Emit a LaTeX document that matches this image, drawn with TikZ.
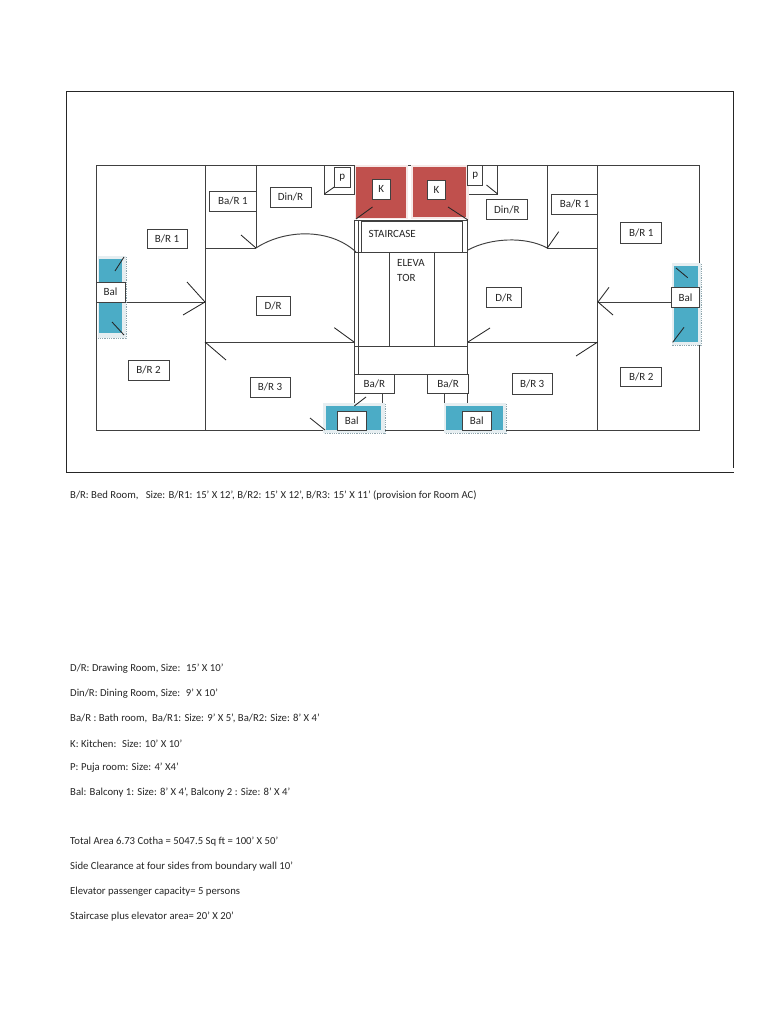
\documentclass[tikz,border=0pt]{standalone}
\usepackage{fontspec}
\setmainfont{Carlito}
\definecolor{ink}{HTML}{404040}
\definecolor{balblue}{HTML}{4BACC6}
\definecolor{kitred}{HTML}{C0504D}
\definecolor{bluehalo}{HTML}{E6EEF1}
\definecolor{redhalo}{HTML}{F6E9E8}
\definecolor{dotline}{HTML}{8FA6AE}
\tikzset{
 wall/.style={draw=ink,line width=0.95pt},
 frameline/.style={draw=black!85,line width=0.95pt},
 tick/.style={draw=black!85,line width=0.85pt},
 lbox/.style={draw=ink,fill=white,line width=0.95pt,inner sep=0pt},
 ltext/.style={font=\fontsize{11}{12}\selectfont,text=black!85,inner sep=0pt},
 note/.style={font=\fontsize{10.7}{12}\selectfont,text=black!85,anchor=west,inner sep=0pt},
 balfill/.style={fill=balblue},
 kitfill/.style={fill=kitred},
 dotedge/.style={draw=dotline,line width=0.8pt,densely dotted}
}
% box corners x1,y1,x2,y2, name, text
\newcommand{\lab}[6]{%
 \draw[lbox] (#1,#2) rectangle (#3,#4) node[midway,ltext,name=#5]{#6};}
\begin{document}
\begin{tikzpicture}[x=1pt,y=-1pt]
\useasboundingbox[fill=white] (0,0) rectangle (768,1024);
% outer frame
\draw[frameline] (66,472) -- (66,91) -- (733,91) -- (733,468);
\draw[frameline] (66,472) -- (734,472);
% plan outline
\draw[wall] (96,165) rectangle (699,430);
% left wing
\draw[wall] (205,165) -- (205,430);
\draw[wall] (256,165) -- (256,248);
\draw[wall] (205,248) -- (256,248);
\draw[wall] (205,342) -- (354,342);
\draw[wall] (125,302) -- (205,302);
\draw[wall] (256,248) .. controls (285,229) and (330,228) .. (356,252);
% right wing
\draw[wall] (597.7,165) -- (597.7,430);
\draw[wall] (547.3,165) -- (547.3,248);
\draw[wall] (547.3,248) -- (597.7,248);
\draw[wall] (468,342) -- (597.7,342);
\draw[wall] (598,302) -- (672,302);
\draw[wall] (468,250) .. controls (490,238) and (525,236) .. (547.3,248);
% puja rooms
\draw[wall] (324.3,165) rectangle (354.3,194.7);
\draw[wall] (467.7,165) rectangle (497.7,194.7);
% core
\draw[wall] (354.3,220) -- (354.3,406);
\draw[wall] (358.3,220) -- (358.3,374);
\draw[wall] (354.3,220.5) -- (467.7,220.5);
\draw[wall] (467.7,220.5) -- (467.7,405);
\draw[wall] (361,221.7) rectangle (462.7,252);
\draw[wall] (354.3,252) -- (467.7,252);
\draw[wall] (389.7,252) -- (389.7,346.3);
\draw[wall] (434,252) -- (434,346.3);
\draw[wall] (354.3,346.3) -- (467.7,346.3);
\draw[wall] (354.3,374) -- (467.7,374);
\draw[wall] (382.7,393.7) -- (382.7,405);
\draw[wall] (444.7,393.7) -- (444.7,405);
% balconies
\fill[bluehalo] (97.5,256) rectangle (126,338);
\fill[balfill] (99.3,259) rectangle (122,333);
\draw[dotedge] (126,257) -- (126,338) -- (98,338);
\fill[bluehalo] (671.5,263) rectangle (701,345);
\fill[balfill] (674.3,265.7) rectangle (698,341.7);
\draw[dotedge] (701,264) -- (701,345) -- (672,345);
\fill[bluehalo] (323,403) rectangle (385,433);
\fill[balfill] (326,405.7) rectangle (381.3,430);
\draw[dotedge] (385,404) -- (385,433) -- (324,433);
\fill[bluehalo] (444,403) rectangle (506,433);
\fill[balfill] (446,405.7) rectangle (502.7,430);
\draw[dotedge] (506,404) -- (506,433) -- (445,433);
% kitchens
\fill[redhalo] (354.5,165) rectangle (408,219.5);
\fill[kitfill] (355.7,166.7) rectangle (405.7,217.7);
\fill[redhalo] (410.5,165) rectangle (469,219.5);
\fill[kitfill] (412.7,167) rectangle (466,217);
% door ticks
\draw[tick] (241,235) -- (256,248);
\draw[tick] (187,282) -- (205,302) -- (183,315);
\draw[tick] (115,271) -- (124,257);
\draw[tick] (112,322) -- (124,335);
\draw[tick] (205,342) -- (226,360);
\draw[tick] (334.3,327.7) -- (354,342);
\draw[tick] (468,342) -- (490,328);
\draw[tick] (310,418) -- (325,430);
\draw[tick] (354.3,406) -- (366,397);
\draw[tick] (356,219) -- (372.5,207);
\draw[tick] (448,207) -- (468,220);
\draw[tick] (324.3,194) -- (334.3,187);
\draw[tick] (486.5,185) -- (497.7,194);
\draw[tick] (547.3,248) -- (558.7,231.7);
\draw[tick] (609,287.3) -- (598,302) -- (613,315);
\draw[tick] (676,268) -- (687.7,277.7);
\draw[tick] (672.7,342.3) -- (684,327.3);
\draw[tick] (597.7,342) -- (576,356);
% room labels
\lab{147}{229}{187}{248}{br1l}{B/R 1}
\lab{128}{360}{169}{380}{br2l}{B/R 2}
\lab{250}{377}{290}{397}{br3l}{B/R 3}
\lab{256}{296}{290}{315}{drl}{D/R}
\lab{209.7}{191.7}{256}{211}{ba1l}{Ba/R 1}
\lab{270}{187}{311}{207}{dinl}{Din/R}
\lab{334.3}{167.7}{350}{187}{pl}{p}
\lab{372.3}{179.7}{390}{199}{kl}{K}
\lab{427.7}{180}{445}{199}{kr}{K}
\lab{467.7}{165}{482.7}{185.7}{pr}{p}
\lab{486.7}{199.7}{527}{219.7}{dinr}{Din/R}
\lab{551.7}{194.3}{597.7}{214}{ba1r}{Ba/R 1}
\lab{620.7}{222.7}{661.7}{243}{br1r}{B/R 1}
\lab{620.7}{367}{661.7}{386.7}{br2r}{B/R 2}
\lab{512.3}{373.7}{552}{394}{br3r}{B/R 3}
\lab{486.7}{287.7}{521}{307.3}{drr}{D/R}
\lab{354.3}{374}{394.3}{393.7}{bacl}{Ba/R}
\lab{427.7}{374}{468.3}{393.7}{bacr}{Ba/R}
\lab{96}{282}{125}{302}{ball}{Bal}
\lab{671.5}{287.7}{699.3}{307.3}{balr}{Bal}
\lab{337.7}{411}{366}{430.5}{balbl}{Bal}
\lab{462.7}{411}{491}{430.5}{balbr}{Bal}
\node[ltext,anchor=west] (stair) at (368.5,234) {STAIRCASE};
\node[ltext,anchor=west] (elev1) at (397,263) {ELEVA};
\node[ltext,anchor=west] (elev2) at (397,278) {TOR};
% notes
\node[note] (n1) at (70,495.5) {B/R: Bed Room,~~ Size: B/R1: 15’ X 12’, B/R2: 15’ X 12’, B/R3: 15’ X 11’ (provision for Room AC)};
\node[note] (n2) at (70,668.5) {D/R: Drawing Room, Size:~ 15’ X 10’};
\node[note] (n3) at (70,694) {Din/R: Dining Room, Size:~ 9’ X 10’};
\node[note] (n4) at (70,718.5) {Ba/R : Bath room,~ Ba/R1: Size: 9’ X 5’, Ba/R2: Size: 8’ X 4’};
\node[note] (n5) at (70,743.5) {K: Kitchen:~ Size: 10’ X 10’};
\node[note] (n6) at (70,768) {P: Puja room: Size: 4’ X4’};
\node[note] (n7) at (70,792.5) {Bal: Balcony 1: Size: 8’ X 4’, Balcony 2 : Size: 8’ X 4’};
\node[note] (n8) at (70,841.5) {Total Area 6.73 Cotha = 5047.5 Sq ft = 100’ X 50’};
\node[note] (n9) at (70,866.5) {Side Clearance at four sides from boundary wall 10’};
\node[note] (n10) at (70,891.5) {Elevator passenger capacity= 5 persons};
\node[note] (n11) at (70,916.5) {Staircase plus elevator area= 20’ X 20’};
\end{tikzpicture}
\end{document}
